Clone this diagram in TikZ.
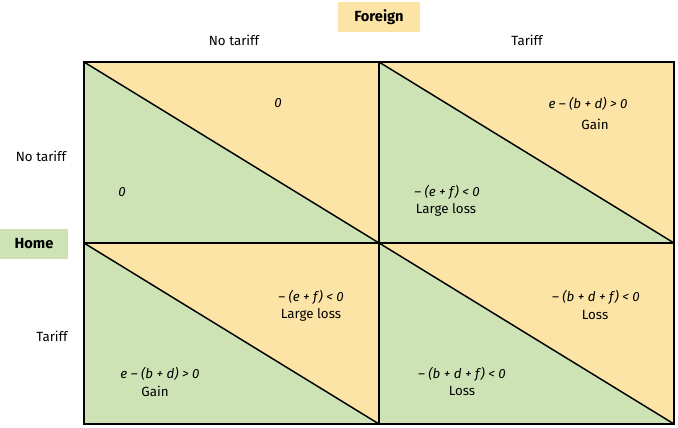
\documentclass[tikz,border=0pt]{standalone}
\usepackage{fontspec}
\setmainfont{Fira Sans}
\definecolor{org}{HTML}{FCE3A6}
\definecolor{grn}{HTML}{CDE3B6}
\begin{document}
\begin{tikzpicture}[x=0.75pt,y=-0.75pt,
  lbl/.style={font=\fontsize{10}{12}\selectfont,align=center,inner sep=1pt},
  ex/.style={font=\fontsize{10}{12}\selectfont\itshape,inner sep=1pt},
  hd/.style={font=\fontsize{11}{13}\selectfont\bfseries,minimum height=22pt,inner sep=4pt}]
\useasboundingbox (0,0) rectangle (678,428);
% cells
\foreach \x/\y in {84/62,379/62,84/243,379/243}{
  \fill[grn] (\x,\y) rectangle ++(295,181);
  \fill[org] (\x,\y) -- ++(295,0) -- ++(0,181) -- cycle;
  \draw[line width=1.1pt] (\x,\y) -- ++(295,181);
}
\draw[line width=1.5pt] (84,62) rectangle (674,424);
\draw[line width=1.5pt] (379,62) -- (379,424);
\draw[line width=1.5pt] (84,243) -- (674,243);
% headers
\node[hd,fill=org,minimum width=82*0.75pt] (foreign) at (379,17) {Foreign};
\node[hd,fill=grn,minimum width=68*0.75pt] (home) at (34,244) {Home};
\node[lbl] (cnt) at (234,40) {No tariff};
\node[lbl] (ct) at (527,40) {Tariff};
\node[lbl] (rnt) at (41,156) {No tariff};
\node[lbl] (rt) at (52,336) {Tariff};
% payoffs
\node[ex] (a1) at (278,103) {0};
\node[ex] (a2) at (122,192) {0};
\node[ex] (b1) at (588,104) {e – (b + d) > 0};
\node[lbl] (b1l) at (595,124) {Gain};
\node[ex] (b2) at (447,192) {– (e + f) < 0};
\node[lbl] (b2l) at (446,210) {Large loss};
\node[ex] (c1) at (311,297) {– (e + f) < 0};
\node[lbl] (c1l) at (311,315) {Large loss};
\node[ex] (c2) at (160,374) {e – (b + d) > 0};
\node[lbl] (c2l) at (155,391) {Gain};
\node[ex] (d1) at (596,297) {– (b + d + f) < 0};
\node[lbl] (d1l) at (595,315) {Loss};
\node[ex] (d2) at (462,374) {– (b + d + f) < 0};
\node[lbl] (d2l) at (462,391) {Loss};
\end{tikzpicture}
\end{document}
